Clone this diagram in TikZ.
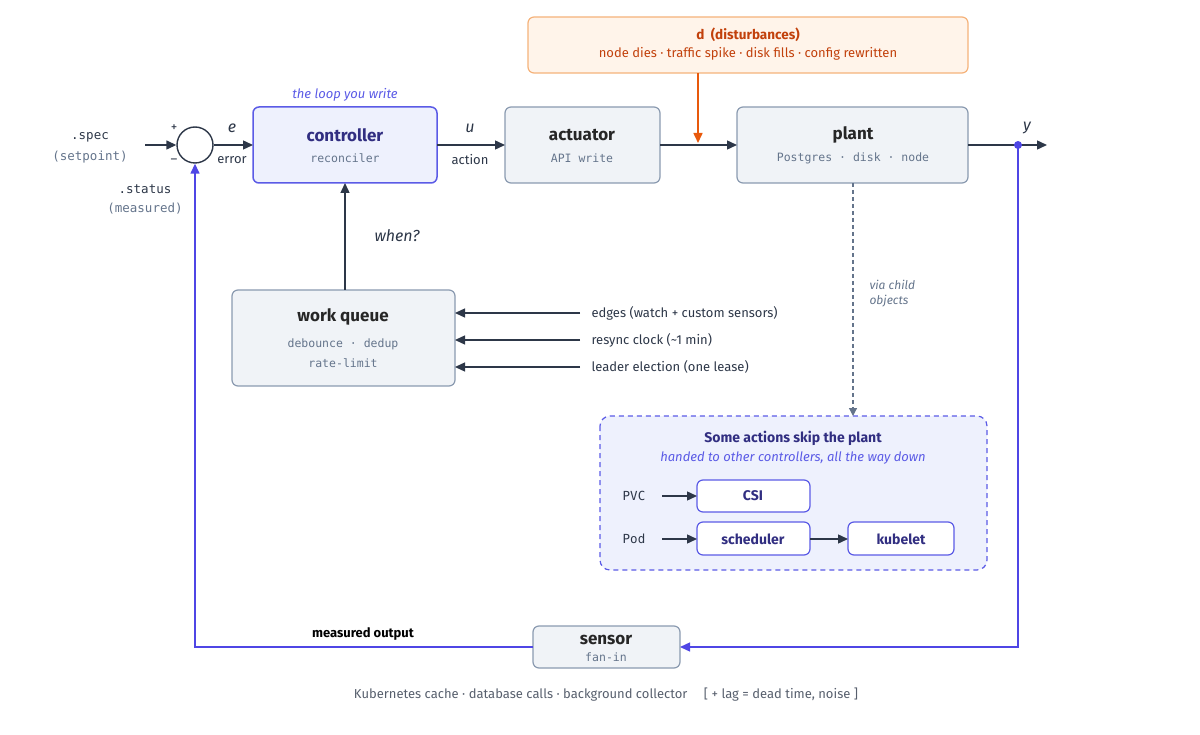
\documentclass[tikz,border=0pt]{standalone}
\usepackage{fontspec}
\setmainfont{Fira Sans}
\setsansfont{Fira Sans}
\setmonofont{DejaVu Sans Mono}
\usetikzlibrary{arrows.meta}
\definecolor{ink}{HTML}{2D3748}
\definecolor{slate}{HTML}{64748B}
\definecolor{boxb}{HTML}{8A9AB0}
\definecolor{boxf}{HTML}{F0F3F7}
\definecolor{ind}{HTML}{4F46E5}
\definecolor{indt}{HTML}{312E81}
\definecolor{ctrlf}{HTML}{EEF1FD}
\definecolor{ctrlb}{HTML}{5B5BE6}
\definecolor{orf}{HTML}{FFF4EA}
\definecolor{orb}{HTML}{F5B27A}
\definecolor{ort}{HTML}{C2410C}
\definecolor{ora}{HTML}{E8590C}
\begin{document}
\begin{tikzpicture}[x=1pt,y=-1pt,
 box/.style={draw=boxb,fill=boxf,rounded corners=6pt,line width=1.2pt},
 cbox/.style={draw=ctrlb,fill=ctrlf,rounded corners=6pt,line width=1.5pt},
 ibox/.style={draw=ctrlb,fill=white,rounded corners=6pt,line width=1.2pt},
 arr/.style={draw=ink,line width=1.4pt,-{Triangle[length=10pt,width=9pt]}},
 barr/.style={draw=ind,line width=1.4pt,-{Triangle[length=10pt,width=9pt]}},
 ttl/.style={font=\fontsize{17}{19}\selectfont\bfseries,text=black!85},
 sub/.style={font=\ttfamily\fontsize{11.5}{13}\selectfont,text=slate},
 lbl/.style={font=\fontsize{13}{15}\selectfont,text=ink},
 mono/.style={font=\ttfamily\fontsize{12.5}{14}\selectfont,text=ink}]
\useasboundingbox (0,0) rectangle (1200,735);
% disturbance
\draw[draw=orb,fill=orf,rounded corners=6pt,line width=1.2pt] (528,17) rectangle (968,73);
\node[font=\fontsize{13.5}{15}\selectfont\bfseries,text=ort] (dt) at (748,35) {d\ \ (disturbances)};
\node[font=\fontsize{13}{15}\selectfont,text=ort] (ds) at (748,54) {node dies · traffic spike · disk fills · config rewritten};
\coordinate (dtop) at (698,73);
% boxes
\draw[cbox] (253,107) rectangle (437,183);
\node[ttl,text=indt] at (345,135) {controller};
\node[sub] at (345,158) {reconciler};
\node[font=\itshape\fontsize{13}{15}\selectfont,text=ctrlb] at (345,95) {the loop you write};
\coordinate (ctrlL) at (253,145); \coordinate (ctrlR) at (437,145); \coordinate (ctrlB) at (345,183);
\draw[box] (505,107) rectangle (660,183);
\node[ttl] at (582,135) {actuator};
\node[sub] at (582,158) {API write};
\coordinate (actL) at (505,145); \coordinate (actR) at (660,145);
\draw[box] (737,107) rectangle (968,183);
\node[ttl] at (853,135) {plant};
\node[sub] at (853,158) {Postgres · disk · node};
\coordinate (plL) at (737,145); \coordinate (plR) at (968,145); \coordinate (plB) at (853,183);
% sum
\node[circle,draw=ink,line width=1.4pt,minimum size=36pt,inner sep=0pt] (sum) at (195,145) {};
\node[lbl] at (174,128) {+};
\node[lbl] at (174,161) {–};
\node[mono] at (90,137) {.spec};
\node[sub,font=\ttfamily\fontsize{12.5}{14}\selectfont] at (90,157) {(setpoint)};
\node[mono] at (145,189) {.status};
\node[sub,font=\ttfamily\fontsize{12.5}{14}\selectfont] at (145,209) {(measured)};
\coordinate (spec) at (145,145);
\draw[arr] (spec) -- (sum.west);
\draw[arr] (sum.east) -- (ctrlL);
\node[font=\itshape\fontsize{16}{17}\selectfont,text=ink] at (232,128) {e};
\node[lbl] at (232,160) {error};
\draw[arr] (ctrlR) -- (actL);
\node[font=\itshape\fontsize{16}{17}\selectfont,text=ink] at (470,128) {u};
\node[lbl] at (470,160) {action};
\draw[arr] (actR) -- (plL);
\draw[draw=ora,line width=1.6pt,-{Triangle[length=10pt,width=9pt]}] (dtop) -- (698,143);
\coordinate (yend) at (1047,145);
\draw[arr] (plR) -- (yend);
\node[font=\itshape\fontsize{16}{17}\selectfont,text=ink] at (1027,128) {y};
\coordinate (tap) at (1018,145);
% feedback
\draw[box] (533,626) rectangle (680,668);
\node[ttl] at (606,640) {sensor};
\node[sub] at (606,657) {fan-in};
\coordinate (senR) at (680,647); \coordinate (senL) at (533,647);
\draw[barr] (tap) -- (1018,647) -- (senR);
\draw[barr] (senL) -- (195,647) -- (sum.south);
\fill[ind] (tap) circle (4pt);
\node[font=\fontsize{13}{15}\selectfont\bfseries,text=black] at (363,634) {measured output};
\node[font=\fontsize{13}{15}\selectfont,text=ink!80] at (606,695) {Kubernetes cache · database calls · background collector\quad\ [ + lag = dead time, noise ]};
% work queue
\draw[box] (232,290) rectangle (455,386);
\node[ttl] at (343,317) {work queue};
\node[sub] at (343,344) {debounce · dedup};
\node[sub] at (343,363) {rate-limit};
\draw[arr] (345,290) -- (ctrlB);
\node[font=\itshape\fontsize{16}{17}\selectfont,text=ink] at (397,236) {when?};
\foreach \yy/\t in {313/{edges (watch + custom sensors)},340/{resync clock (\textasciitilde1 min)},367/{leader election (one lease)}}{
 \coordinate (s\yy) at (580,\yy);
 \draw[arr] (s\yy) -- (455,\yy);
 \node[lbl,anchor=west] at (588,\yy) {\t};
}
% skip box
\draw[draw=ctrlb,fill=ctrlf,dashed,dash pattern=on 5pt off 4pt,rounded corners=10pt,line width=1.2pt] (600,416) rectangle (987,570);
\draw[draw=slate,line width=1.2pt,dash pattern=on 4pt off 3pt,-{Triangle[length=8pt,width=8pt]}] (plB) -- (853,416);
\node[font=\itshape\fontsize{12}{15}\selectfont,text=slate,align=left,anchor=west] at (866,294) {via child\\objects};
\node[font=\fontsize{14}{15}\selectfont\bfseries,text=indt] at (793,438) {Some actions skip the plant};
\node[font=\itshape\fontsize{13}{14}\selectfont,text=ctrlb] at (793,458) {handed to other controllers, all the way down};
\draw[ibox] (697,480) rectangle (810,512); \node[font=\fontsize{14}{15}\selectfont\bfseries,text=indt] at (753,496) {CSI};
\draw[ibox] (697,522) rectangle (810,555); \node[font=\fontsize{14}{15}\selectfont\bfseries,text=indt] at (753,539) {scheduler};
\draw[ibox] (848,522) rectangle (954,555); \node[font=\fontsize{14}{15}\selectfont\bfseries,text=indt] at (901,539) {kubelet};
\node[mono] (pvc) at (634,496) {PVC};
\node[mono] (pod) at (634,539) {Pod};
\draw[arr] (662,496) -- (697,496);
\draw[arr] (662,539) -- (697,539);
\draw[arr] (810,539) -- (848,539);
\end{tikzpicture}
\end{document}
